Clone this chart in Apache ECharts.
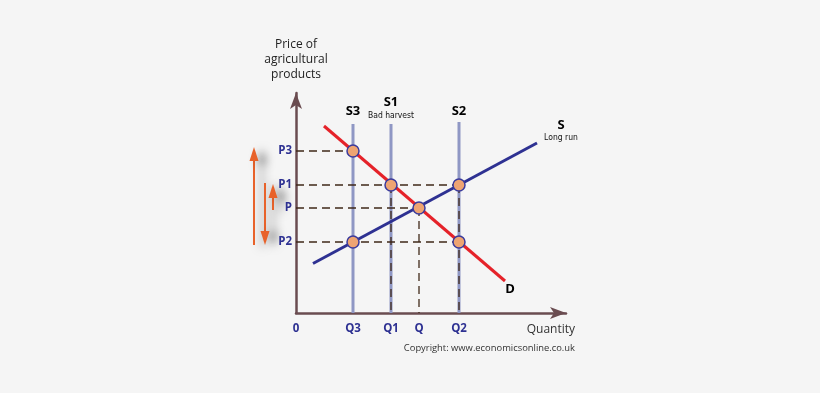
<!DOCTYPE html>
<html><head><meta charset="utf-8">
<script src="https://cdn.jsdelivr.net/npm/echarts@6/dist/echarts.min.js"></script>
<style>html,body{margin:0;padding:0;background:#f5f5f5}#c{width:820px;height:393px}</style>
</head><body><div id="c"></div>
<script>
// Quantities (x) and prices (y), in chart units
const qNames = ['0', 'Q3', 'Q1', 'Q', 'Q2'];
const qValues = [0, 57, 95, 123, 163];
const pNames = ['P2', 'P', 'P1', 'P3'];
const pValues = [71, 105, 128, 162];
const demandLine = [[28, 187], [209, 32]];
const supplyLine = [[17, 49.5], [241, 170]];
const s3Line = [[57, 0], [57, 189]];
const s1Line = [[95, 0], [95, 189]];
const s2Line = [[163, 0], [163, 191]];
const equilibria = [[57, 162], [95, 128], [123, 105], [163, 128], [57, 71], [163, 71]];
const guideH = [[[0, 162], [57, 162]], [[0, 128], [163, 128]], [[0, 105], [123, 105]], [[0, 71], [163, 71]]];
const guideV = [[[95, 128], [95, 0]], [[123, 105], [123, 0]], [[163, 128], [163, 0]]];
const curveLabels = [
  { pos: [57, 202], text: 'S3' }, { pos: [95, 211], text: 'S1' },
  { pos: [163, 202], text: 'S2' }, { pos: [265, 188], text: 'S' }, { pos: [214, 24], text: 'D' }
];
const subLabels = [{ pos: [95, 197], text: 'Bad harvest' }, { pos: [265, 175], text: 'Long run' }];

const chart = echarts.init(document.getElementById('c'));
const font = '"Open Sans", "Noto Sans", sans-serif';
const axisColor = '#6a4c50';
const dash = { color: '#3f2818', width: 1.3, type: [8, 5] };
const series = [];
[s3Line, s1Line, s2Line].forEach(d => series.push({
  type: 'line', data: d, symbol: 'none', silent: true,
  lineStyle: { color: '#8f97c4', width: 3 }, z: 2
}));
guideH.concat(guideV).forEach(d => series.push({
  type: 'line', data: d, symbol: 'none', silent: true, lineStyle: dash, z: 3
}));
series.push({ type: 'line', data: demandLine, symbol: 'none', lineStyle: { color: '#e52229', width: 3 }, z: 4 });
series.push({ type: 'line', data: supplyLine, symbol: 'none', lineStyle: { color: '#2e3192', width: 3 }, z: 4 });
series.push({
  type: 'scatter', data: equilibria, symbol: 'circle', symbolSize: 12, z: 6,
  itemStyle: { color: '#eea472', borderColor: '#3b3b9c', borderWidth: 1.5, opacity: 1 }
});
series.push({
  type: 'scatter', data: curveLabels.map(l => ({ value: l.pos, name: l.text })), symbolSize: 0, z: 7,
  itemStyle: { opacity: 1 },
  label: { show: true, position: 'inside', formatter: p => p.name, fontFamily: font, fontWeight: 'bold', fontSize: 13, color: '#000', opacity: 1 }
});
series.push({
  type: 'scatter', data: subLabels.map(l => ({ value: l.pos, name: l.text })), symbolSize: 0, z: 7,
  itemStyle: { opacity: 1 },
  label: { show: true, position: 'inside', formatter: p => p.name, fontFamily: '"Liberation Sans Narrow", "DejaVu Sans Condensed", sans-serif', fontSize: 8.5, color: '#111', opacity: 1 }
});

function arrow(x, yTail, yTip) {
  const dir = yTip < yTail ? 1 : -1;
  const col = '#e8622a';
  const sh = { shadowColor: 'rgba(0,0,0,0.5)', shadowBlur: 10, shadowOffsetX: 8, shadowOffsetY: 2 };
  return {
    type: 'group', children: [
      { type: 'line', shape: { x1: x, y1: yTail, x2: x, y2: yTip + dir * 10 }, style: Object.assign({ stroke: col, lineWidth: 2 }, sh) },
      { type: 'polygon', shape: { points: [[x, yTip], [x - 4.5, yTip + dir * 14], [x + 4.5, yTip + dir * 14]] }, style: Object.assign({ fill: col }, sh) }
    ]
  };
}

chart.setOption({
  backgroundColor: '#f5f5f5',
  animation: false,
  grid: { left: 296, top: 93, width: 270, height: 220 },
  xAxis: {
    type: 'value', min: 0, max: 270,
    axisLine: { show: true, lineStyle: { color: axisColor, width: 2.5 }, symbol: ['none', 'arrow'], symbolSize: [9, 16] },
    axisTick: { show: false }, splitLine: { show: false },
    axisLabel: {
      customValues: qValues, margin: 10, fontFamily: font, fontWeight: 'bold', fontSize: 11.5, color: '#2e3192',
      formatter: v => qNames[qValues.indexOf(v)]
    }
  },
  yAxis: {
    type: 'value', min: 0, max: 220,
    axisLine: { show: true, lineStyle: { color: axisColor, width: 2.5 }, symbol: ['none', 'arrow'], symbolSize: [9, 16] },
    axisTick: { show: false }, splitLine: { show: false },
    axisLabel: {
      customValues: pValues, margin: 4, fontFamily: font, fontWeight: 'bold', fontSize: 11.5, color: '#2e3192',
      formatter: v => pNames[pValues.indexOf(v)]
    }
  },
  graphic: [
    { type: 'text', x: 296, y: 37, style: { text: 'Price of\nagricultural\nproducts', fontFamily: font, fontSize: 12, lineHeight: 15, fill: '#222', align: 'center' } },
    { type: 'text', x: 575, y: 330, style: { text: 'Quantity', fontFamily: font, fontSize: 12, fill: '#333', align: 'right', verticalAlign: 'middle' } },
    { type: 'text', x: 575, y: 348, style: { text: 'Copyright: www.economicsonline.co.uk', fontFamily: font, fontSize: 9.4, fill: '#333', align: 'right', verticalAlign: 'middle' } },
    arrow(254, 245, 147),
    arrow(265, 183, 245),
    arrow(273, 210, 184)
  ],
  series: series
});
</script></body></html>
